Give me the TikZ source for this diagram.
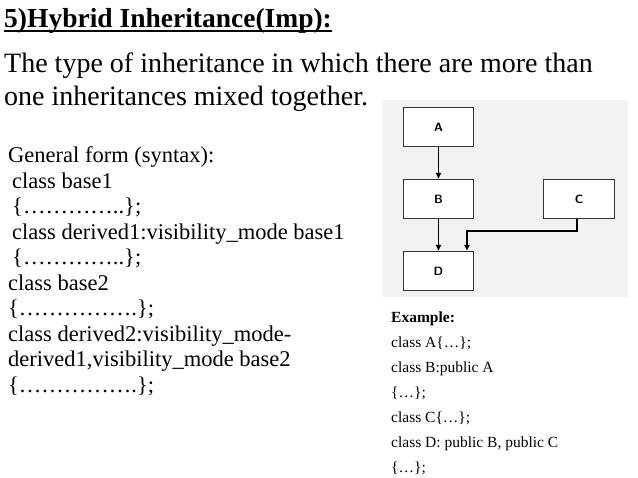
\documentclass[tikz,border=0pt]{standalone}
\usepackage{fontspec}
\setmainfont{Liberation Serif}
\usetikzlibrary{arrows.meta}
\begin{document}
\begin{tikzpicture}[x=1pt,y=-1pt,
  box/.style={draw=black!80,fill=white,line width=1pt,anchor=north west,inner sep=0pt,font=\fontsize{12}{14}\selectfont\bfseries\sffamily},
  arr/.style={-{Latex[length=6pt,width=6pt]},line width=1.1pt},
  txt/.style={anchor=base west,inner sep=0pt}]
\useasboundingbox (0,0) rectangle (638,478);
\node[txt,font=\fontsize{27.5}{30}\selectfont\bfseries] (title) at (4,28) {5)Hybrid Inheritance(Imp):};
\draw[line width=1.5pt] ([yshift=-3pt]title.base west) -- ([yshift=-3pt]title.base east);
\node[txt,font=\fontsize{28}{30}\selectfont] (l1) at (4,73) {The type of inheritance in which there are more than};
\node[txt,font=\fontsize{28}{30}\selectfont] (l2) at (4,106) {one inheritances mixed together.};
\fill[black!5] (383,100) rectangle (628,297);
\node[box,minimum width=70pt,minimum height=39pt] (A) at (403,107) {A};
\node[box,minimum width=70pt,minimum height=39pt] (B) at (403,179) {B};
\node[box,minimum width=71pt,minimum height=39pt] (C) at (543,179) {C};
\node[box,minimum width=70pt,minimum height=39pt] (D) at (403,251) {D};
\draw[arr] (A.south) -- (B.north);
\draw[arr] (B.south) -- (D.north);
\coordinate (c1) at (577,231);
\coordinate (c2) at (467,231);
\coordinate (d2) at (467,251);
\draw[arr] (C.south -| c1) -- (c1) -- (c2) -- (d2);
\begin{scope}[every node/.style={txt,font=\fontsize{22.5}{25}\selectfont}]
\node (g1) at (8,163) {General form (syntax):};
\node (g2) at (12,189) {class base1};
\node (g3) at (12,214) {\{…………..\};};
\node (g4) at (12,240) {class derived1:visibility\_mode base1};
\node (g5) at (12,265) {\{…………..\};};
\node (g6) at (8,291) {class base2};
\node (g7) at (8,316) {\{…………….\};};
\node (g8) at (8,342) {class derived2:visibility\_mode-};
\node (g9) at (8,367) {derived1,visibility\_mode base2};
\node (g10) at (8,393) {\{…………….\};};
\end{scope}
\begin{scope}[every node/.style={txt,font=\fontsize{15.5}{18}\selectfont}]
\node[font=\fontsize{15.5}{18}\selectfont\bfseries] (e0) at (391,323) {Example:};
\node (e1) at (391,348) {class A\{…\};};
\node (e2) at (391,373) {class B:public A};
\node (e3) at (391,398) {\{…\};};
\node (e4) at (391,423) { class C\{…\};};
\node (e5) at (391,448) {class D: public B, public C};
\node (e6) at (391,473) {\{…\};};
\end{scope}
\end{tikzpicture}
\end{document}
